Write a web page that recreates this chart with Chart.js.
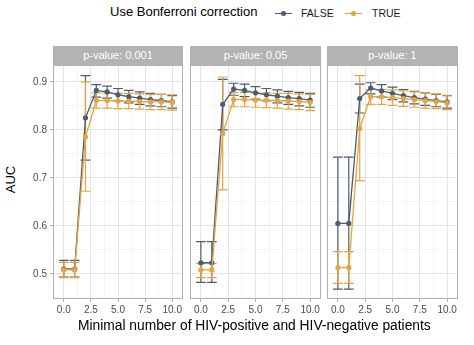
<!DOCTYPE html>
<html>
<head>
<meta charset="utf-8">
<script src="https://cdn.jsdelivr.net/npm/chart.js@4/dist/chart.umd.min.js"></script>
<style>
body{margin:0;background:#fff;font-family:"Liberation Sans",Arial,sans-serif;}
#wrap{position:relative;width:474px;height:345px;overflow:hidden;}
canvas{position:absolute;top:65px;}
.strip{position:absolute;top:46px;height:19px;background:#b3b3b3;color:#fff;font-size:11px;line-height:19px;text-align:center;}
.lab{position:absolute;white-space:nowrap;color:#000;}
.key{position:absolute;top:13px;width:17px;height:1.3px;}
.key i{position:absolute;left:6px;top:-2px;width:5px;height:5px;border-radius:50%;}
</style>
</head>
<body>
<div id="wrap">
  <div class="lab" style="left:110px;top:4px;font-size:13px;">Use Bonferroni correction</div>
  <div class="key" style="left:275px;background:#4b5d71"><i style="background:#4b5d71"></i></div>
  <div class="lab" style="left:301px;top:7px;font-size:10.5px;color:#1a1a1a">FALSE</div>
  <div class="key" style="left:345px;background:#e4a444"><i style="background:#e4a444"></i></div>
  <div class="lab" style="left:372px;top:7px;font-size:10.5px;color:#1a1a1a">TRUE</div>

  <div class="strip" style="left:53px;width:130px">p-value: 0.001</div>
  <div class="strip" style="left:190px;width:131px">p-value: 0.05</div>
  <div class="strip" style="left:327px;width:131px">p-value: 1</div>

  <canvas id="c1" width="155" height="256" style="left:28px"></canvas>
  <canvas id="c2" width="131" height="256" style="left:190px"></canvas>
  <canvas id="c3" width="131" height="256" style="left:327px"></canvas>

  <div class="lab" style="left:-3px;top:172px;font-size:13px;transform:rotate(-90deg);">AUC</div>
  <div class="lab" style="left:78px;top:318px;font-size:13.8px;">Minimal number of HIV-positive and HIV-negative patients</div>
</div>
<script>
// minimal number of patients
const X = [0, 1, 2, 3, 4, 5, 6, 7, 8, 9, 10];

// p-value 0.001
const p1False   = [0.510, 0.510, 0.825, 0.882, 0.879, 0.873, 0.869, 0.866, 0.863, 0.861, 0.858];
const p1FalseLo = [0.493, 0.493, 0.737, 0.868, 0.866, 0.860, 0.856, 0.853, 0.850, 0.848, 0.845];
const p1FalseHi = [0.528, 0.528, 0.913, 0.894, 0.891, 0.886, 0.882, 0.879, 0.876, 0.874, 0.871];
const p1True    = [0.508, 0.508, 0.785, 0.861, 0.861, 0.860, 0.860, 0.859, 0.858, 0.858, 0.857];
const p1TrueLo  = [0.492, 0.492, 0.672, 0.845, 0.845, 0.844, 0.844, 0.843, 0.842, 0.842, 0.841];
const p1TrueHi  = [0.524, 0.524, 0.900, 0.877, 0.877, 0.876, 0.876, 0.875, 0.874, 0.874, 0.873];

// p-value 0.05
const p2False   = [0.523, 0.523, 0.853, 0.885, 0.882, 0.877, 0.873, 0.870, 0.867, 0.865, 0.862];
const p2FalseLo = [0.482, 0.482, 0.800, 0.872, 0.869, 0.864, 0.860, 0.856, 0.853, 0.850, 0.847];
const p2FalseHi = [0.567, 0.567, 0.905, 0.897, 0.895, 0.890, 0.886, 0.883, 0.880, 0.878, 0.876];
const p2True    = [0.508, 0.508, 0.792, 0.863, 0.863, 0.862, 0.862, 0.861, 0.860, 0.859, 0.857];
const p2TrueLo  = [0.492, 0.492, 0.675, 0.848, 0.848, 0.847, 0.846, 0.845, 0.843, 0.842, 0.840];
const p2TrueHi  = [0.521, 0.521, 0.910, 0.878, 0.878, 0.877, 0.877, 0.876, 0.876, 0.875, 0.874];

// p-value 1
const p3False   = [0.605, 0.605, 0.865, 0.887, 0.881, 0.876, 0.871, 0.867, 0.864, 0.861, 0.858];
const p3FalseLo = [0.468, 0.468, 0.835, 0.875, 0.868, 0.863, 0.858, 0.854, 0.851, 0.848, 0.845];
const p3FalseHi = [0.743, 0.743, 0.895, 0.898, 0.894, 0.889, 0.884, 0.880, 0.877, 0.874, 0.871];
const p3True    = [0.513, 0.513, 0.803, 0.869, 0.869, 0.867, 0.865, 0.863, 0.861, 0.859, 0.856];
const p3TrueLo  = [0.480, 0.480, 0.694, 0.853, 0.853, 0.851, 0.849, 0.847, 0.845, 0.844, 0.842];
const p3TrueHi  = [0.546, 0.546, 0.913, 0.884, 0.884, 0.883, 0.881, 0.879, 0.877, 0.875, 0.872];

// ticks
const xTicks  = [0, 2.5, 5, 7.5, 10];
const xLabels = ['0.0', '2.5', '5.0', '7.5', '10.0'];
const xMinor  = [1.25, 3.75, 6.25, 8.75];
const yTicks  = [0.5, 0.6, 0.7, 0.8, 0.9];
const yLabels = ['0.5', '0.6', '0.7', '0.8', '0.9'];
const yMinor  = [0.45, 0.55, 0.65, 0.75, 0.85];

const colFalse = '#4b5d71';
const colTrue = '#e4a444';

const isMajor = (list, v) => list.some(t => Math.abs(t - v) < 1e-9);

const errorBars = {
    id: 'errorBars',
    beforeDatasetsDraw(chart) {
        const {ctx, scales: {x, y}} = chart;
        chart.data.datasets.slice().reverse().forEach(ds => {
            ctx.save();
            ctx.strokeStyle = ds.borderColor;
            ctx.lineWidth = 1.2;
            ds.lo.forEach((lo, i) => {
                const px = x.getPixelForValue(X[i]);
                const w = x.getPixelForValue(X[i] + 0.45) - px;
                const y1 = y.getPixelForValue(lo);
                const y2 = y.getPixelForValue(ds.hi[i]);
                ctx.beginPath();
                ctx.moveTo(px, y1); ctx.lineTo(px, y2);
                ctx.moveTo(px - w, y1); ctx.lineTo(px + w, y1);
                ctx.moveTo(px - w, y2); ctx.lineTo(px + w, y2);
                ctx.stroke();
            });
            ctx.restore();
        });
    },
    afterDraw(chart) {
        const {ctx, chartArea: a} = chart;
        ctx.save();
        ctx.strokeStyle = '#b3b3b3';
        ctx.lineWidth = 1;
        ctx.strokeRect(a.left + 0.5, a.top + 0.5, a.width - 1, a.height - 1);
        ctx.restore();
    }
};

function makePanel(id, f, fLo, fHi, t, tLo, tHi, showY) {
    return new Chart(document.getElementById(id), {
        type: 'line',
        data: {
            datasets: [
                {label: 'TRUE', data: X.map((v, i) => ({x: v, y: t[i]})), lo: tLo, hi: tHi,
                 borderColor: colTrue, backgroundColor: colTrue, order: 0},
                {label: 'FALSE', data: X.map((v, i) => ({x: v, y: f[i]})), lo: fLo, hi: fHi,
                 borderColor: colFalse, backgroundColor: colFalse, order: 1}
            ]
        },
        options: {
            responsive: false,
            animation: false,
            devicePixelRatio: 1,
            layout: {padding: 0, autoPadding: false},
            elements: {
                line: {borderWidth: 1.3, tension: 0},
                point: {radius: 2.6, borderWidth: 0, hoverRadius: 2.6}
            },
            plugins: {legend: {display: false}, tooltip: {enabled: false}},
            scales: {
                x: {
                    type: 'linear', min: -0.995, max: 10.995,
                    afterBuildTicks: s => { s.ticks = xTicks.concat(xMinor).sort((a, b) => a - b).map(v => ({value: v})); },
                    afterFit: s => { s.height = 22; s.paddingLeft = 0; s.paddingRight = 0; },
                    border: {display: false},
                    grid: {
                        color: c => isMajor(xTicks, c.tick.value) ? '#e4e4e4' : '#f0f0f0',
                        lineWidth: c => isMajor(xTicks, c.tick.value) ? 1 : 0.7,
                        tickColor: c => isMajor(xTicks, c.tick.value) ? '#b3b3b3' : 'rgba(0,0,0,0)',
                        tickLength: 3, tickWidth: 1
                    },
                    ticks: {
                        autoSkip: false, maxRotation: 0, padding: 2,
                        color: '#4d4d4d', font: {family: 'Liberation Sans', size: 10},
                        callback: v => { const k = xTicks.findIndex(tk => Math.abs(tk - v) < 1e-9); return k < 0 ? '' : xLabels[k]; }
                    }
                },
                y: {
                    min: 0.4475, max: 0.935,
                    afterBuildTicks: s => { s.ticks = yMinor.concat(yTicks).sort((a, b) => a - b).map(v => ({value: v})); },
                    afterFit: s => { s.width = showY ? 25 : 0; s.paddingTop = 0; s.paddingBottom = 0; },
                    border: {display: false},
                    grid: {
                        color: c => isMajor(yTicks, c.tick.value) ? '#e4e4e4' : '#f0f0f0',
                        lineWidth: c => isMajor(yTicks, c.tick.value) ? 1 : 0.7,
                        tickColor: c => isMajor(yTicks, c.tick.value) ? '#b3b3b3' : 'rgba(0,0,0,0)',
                        drawTicks: showY, tickLength: 3, tickWidth: 1
                    },
                    ticks: {
                        display: showY, autoSkip: false, padding: 3,
                        color: '#4d4d4d', font: {family: 'Liberation Sans', size: 10},
                        callback: v => { const k = yTicks.findIndex(tk => Math.abs(tk - v) < 1e-9); return k < 0 ? '' : yLabels[k]; }
                    }
                }
            }
        },
        plugins: [errorBars]
    });
}

makePanel('c1', p1False, p1FalseLo, p1FalseHi, p1True, p1TrueLo, p1TrueHi, true);
makePanel('c2', p2False, p2FalseLo, p2FalseHi, p2True, p2TrueLo, p2TrueHi, false);
makePanel('c3', p3False, p3FalseLo, p3FalseHi, p3True, p3TrueLo, p3TrueHi, false);
</script>
</body>
</html>
